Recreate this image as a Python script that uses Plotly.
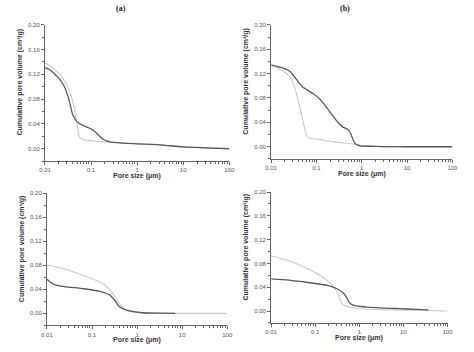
import plotly.graph_objects as go

# ---------------- data ----------------
a_x_dark = [0.01, 0.013, 0.016, 0.02, 0.0265, 0.034, 0.040, 0.0507, 0.065, 0.082, 0.1, 0.124, 0.15, 0.186, 0.26, 0.5, 1, 2.1, 3.5, 10, 30, 100]
a_y_dark = [0.131, 0.127, 0.121, 0.114, 0.100, 0.076, 0.055, 0.043, 0.038, 0.035, 0.032, 0.027, 0.021, 0.015, 0.011, 0.009, 0.008, 0.007, 0.006, 0.003, 0.0015, 0.0]
a_x_light = [0.01, 0.013, 0.016, 0.0245, 0.03, 0.037, 0.042, 0.047, 0.052, 0.056, 0.065, 0.1, 0.2, 0.5, 1, 3, 10, 100]
a_y_light = [0.138, 0.134, 0.129, 0.114, 0.102, 0.086, 0.070, 0.049, 0.030, 0.019, 0.015, 0.013, 0.011, 0.009, 0.008, 0.0065, 0.003, 0.0]

b_x_dark = [0.01, 0.015, 0.0244, 0.032, 0.04, 0.05, 0.066, 0.085, 0.108, 0.14, 0.177, 0.23, 0.29, 0.37, 0.475, 0.56, 0.63, 0.72, 0.92, 1.5, 3, 10, 100]
b_y_dark = [0.134, 0.131, 0.125, 0.116, 0.106, 0.098, 0.092, 0.087, 0.081, 0.072, 0.062, 0.051, 0.041, 0.033, 0.029, 0.023, 0.013, 0.005, 0.0015, 0.0008, 0.0003, 0.0, 0.0]
b_x_light = [0.01, 0.0149, 0.0244, 0.03, 0.034, 0.0436, 0.05, 0.055, 0.0635, 0.108, 0.245, 0.66, 1, 2, 10, 100]
b_y_light = [0.134, 0.128, 0.117, 0.106, 0.095, 0.062, 0.044, 0.030, 0.015, 0.0125, 0.008, 0.0045, 0.002, 0.0005, 0.0, 0.0]

c_x_dark = [0.01, 0.0125, 0.0149, 0.0245, 0.066, 0.18, 0.25, 0.32, 0.41, 0.55, 0.68, 1.3, 3, 7]
c_y_dark = [0.057, 0.051, 0.048, 0.0446, 0.041, 0.035, 0.030, 0.0215, 0.0105, 0.006, 0.004, 0.001, 0.0003, 0.0]
c_x_light = [0.01, 0.0245, 0.066, 0.18, 0.28, 0.36, 0.49, 0.8, 2, 10, 100]
c_y_light = [0.081, 0.074, 0.063, 0.049, 0.035, 0.0215, 0.008, 0.002, 0.0005, 0.0, 0.0]

d_x_dark = [0.01, 0.025, 0.069, 0.19, 0.32, 0.45, 0.52, 0.58, 0.74, 1.47, 8, 20, 37]
d_y_dark = [0.054, 0.052, 0.048, 0.043, 0.037, 0.029, 0.022, 0.015, 0.0095, 0.0067, 0.004, 0.0028, 0.002]
d_x_light = [0.01, 0.025, 0.069, 0.19, 0.27, 0.35, 0.41, 0.58, 1.47, 10, 100]
d_y_light = [0.093, 0.0845, 0.0707, 0.051, 0.040, 0.023, 0.012, 0.0067, 0.003, 0.0015, 0.0]

x_tickvals = [0.01, 0.1, 1, 10, 100]
x_ticktext = ["0.01", "0.1", "1", "10", "100"]
y_tickvals = [0.0, 0.04, 0.08, 0.12, 0.16, 0.20]
panel_titles = ["(a)", "(b)", "", ""]
x_title = "Pore size (μm)"
y_title = "Cumulative pore volume (cm³/g)"

# ---------------- layout ----------------
W, H = 474, 352
DARK = "#5a5a5a"
LIGHT = "#c9c9c9"
AXC = "#666666"
SANS = "Liberation Sans, Arial, sans-serif"

# panel pixel boxes: (x_left, x_right, y_top(0.20), y_zero(0.00))
boxes = [
    (40, 229, 22, 147),
    (272, 458, 22, 145),
    (42, 227, 192, 313),
    (272, 453, 190.7, 310.7),
]
data = [
    (a_x_dark, a_y_dark, a_x_light, a_y_light),
    (b_x_dark, b_y_dark, b_x_light, b_y_light),
    (c_x_dark, c_y_dark, c_x_light, c_y_light),
    (d_x_dark, d_y_dark, d_x_light, d_y_light),
]

minor_x = [m * 10 ** k for k in range(-2, 2) for m in range(2, 10)]

fig = go.Figure()
annotations = []
for i, (box, d) in enumerate(zip(boxes, data)):
    xl, xr, yt, y0 = box
    per = (y0 - yt) / 0.20
    yb = y0 + 0.02 * per
    n = "" if i == 0 else str(i + 1)
    xa = "x" + n
    ya = "y" + n
    fig.add_trace(go.Scatter(x=d[2], y=d[3], mode="lines", line=dict(color=LIGHT, width=1.1, shape="spline", smoothing=0.6),
                             xaxis=xa, yaxis=ya, showlegend=False))
    fig.add_trace(go.Scatter(x=d[0], y=d[1], mode="lines", line=dict(color=DARK, width=1.3, shape="spline", smoothing=0.6),
                             xaxis=xa, yaxis=ya, showlegend=False))
    fig.layout["xaxis" + n] = dict(
        domain=[xl / W, xr / W], anchor=ya, type="log", range=[-2, 2],
        tickvals=x_tickvals, ticktext=x_ticktext, ticks="outside", ticklen=3, tickcolor=AXC,
        showline=True, linecolor=AXC, linewidth=1, showgrid=False, zeroline=False,
        tickfont=dict(family=SANS, size=6, color="#555555"),
        minor=dict(tickvals=minor_x, ticks="outside", ticklen=2, tickcolor=AXC, showgrid=False),
    )
    fig.layout["yaxis" + n] = dict(
        domain=[1 - yb / H, 1 - yt / H], anchor=xa, range=[-0.02, 0.20],
        tickvals=y_tickvals, tickformat=".2f", ticks="outside", ticklen=3, tickcolor=AXC,
        showline=True, linecolor=AXC, linewidth=1, showgrid=False, zeroline=False,
        tickfont=dict(family=SANS, size=6, color="#555555"),
        minor=dict(dtick=0.02, tick0=0, ticks="outside", ticklen=2, tickcolor=AXC, showgrid=False),
    )
    # axis titles
    annotations.append(dict(text=x_title, xref="paper", yref="paper",
                            x=(xl + (xr - xl) * 0.5) / W, y=1 - (yb + 15) / H, showarrow=False,
                            font=dict(family=SANS, size=7, color="#333333", weight="bold"),
                            xanchor="center", yanchor="middle"))
    annotations.append(dict(text=y_title, xref="paper", yref="paper",
                            x=(xl - 26) / W, y=1 - (yt + 0.46 * (y0 - yt)) / H, showarrow=False, textangle=-90,
                            font=dict(family=SANS, size=7, color="#333333", weight="bold"),
                            xanchor="center", yanchor="middle"))
    if panel_titles[i]:
        annotations.append(dict(text=panel_titles[i], xref="paper", yref="paper",
                                x=(xl + (xr - xl) * 0.41) / W, y=1 - 6 / H, showarrow=False,
                                font=dict(family="Liberation Serif, Times New Roman, serif", size=8,
                                          color="#222222", weight="bold"),
                                xanchor="center", yanchor="middle"))

fig.update_layout(
    width=W, height=H, margin=dict(l=0, r=0, t=0, b=0),
    paper_bgcolor="white", plot_bgcolor="white",
    annotations=annotations, showlegend=False,
)
fig.write_html("out.html")
